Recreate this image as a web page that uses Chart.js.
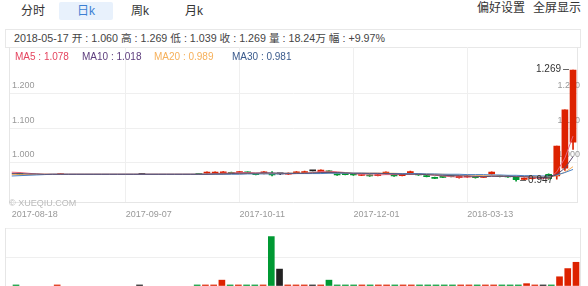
<!DOCTYPE html>
<html>
<head>
<meta charset="utf-8">
<script src="https://cdn.jsdelivr.net/npm/chart.js@4/dist/chart.umd.min.js"></script>
<style>
  body { margin: 0; width: 588px; height: 286px; overflow: hidden; background: #fff; position: relative;
         font-family: "Liberation Sans", Arial, "Noto Sans CJK SC", sans-serif; color: #333; }
  .t { position: absolute; white-space: nowrap; line-height: 1; }
  .tab { font-size: 12px; top: 5px; color: #333; }
  #tabOn { position: absolute; left: 59px; top: 2px; width: 54px; height: 18px; background: #e8f1fc; border-radius: 2px;
           color: #3c7fd3; font-size: 12px; line-height: 18px; text-align: center; }
  #info { position: absolute; left: 5px; top: 29px; width: 566px; height: 17px; border: 1px solid #e8e8e8;
          padding-left: 8px; font-size: 10.7px; line-height: 17px; color: #444; white-space: nowrap; }
  .ma { font-size: 10px; top: 52px; }
  #mainWrap { position: absolute; left: 0; top: 47px; }
  #volWrap { position: absolute; left: 0; top: 227px; }
  #mark { left: 9px; top: 199px; font-size: 9px; color: #bbb; }
</style>
</head>
<body>
<span class="t tab" style="left:21px">分时</span>
<div id="tabOn">日k</div>
<span class="t tab" style="left:131px">周k</span>
<span class="t tab" style="left:185px">月k</span>
<span class="t tab" style="left:477px;top:2px">偏好设置</span>
<span class="t tab" style="left:533px;top:2px">全屏显示</span>
<div id="info">2018-05-17 开 : 1.060 高 : 1.269 低 : 1.039 收 : 1.269 量 : 18.24万 幅 : +9.97%</div>

<div id="mainWrap"><canvas id="priceChart" width="588" height="180"></canvas></div>
<div id="volWrap"><canvas id="volChart" width="588" height="59"></canvas></div>

<span class="t ma" style="left:15px;color:#e5445f">MA5 : 1.078</span>
<span class="t ma" style="left:82px;color:#5d3d7d">MA10 : 1.018</span>
<span class="t ma" style="left:154px;color:#f6b05a">MA20 : 0.989</span>
<span class="t ma" style="left:232px;color:#3a5a8c">MA30 : 0.981</span>
<span class="t" id="mark">© XUEQIU.COM</span>

<script>
// x tick labels (bar index -> date)
const xLabels = ["2017-08-18", "2017-09-07", "2017-10-11", "2017-12-01", "2018-03-13"];
const xTickIdx = [0, 14, 28, 42, 56];
const yTicks = [1.0, 1.1, 1.2];

// daily k, 70 trading days (null = no trade)
const opens = [
  null,
  0.970, null, null, null, null, 0.966, null, null, null, null,
  null, null, null, null, null, 0.967, null, null, null, null,
  null, null, 0.968, 0.970, 0.968, 0.969, 0.972, 0.970, 0.973, 0.968,
  0.969, 0.969, 0.968, 0.967, 0.970, 0.971, 0.977, 0.974, 0.977, 0.968,
  0.968, 0.967, 0.964, 0.965, 0.963, 0.968, 0.966, 0.963, 0.968, 0.967,
  0.963, 0.958, 0.960, 0.962, 0.957, 0.959, 0.960, 0.958, 0.968, 0.963,
  0.962, 0.958, 0.952, 0.954, 0.955, 0.967, 0.962, 0.985, 1.060
];
const closes = [
  null,
  0.966, null, null, null, null, 0.968, null, null, null, null,
  null, null, null, null, null, 0.967, null, null, null, null,
  null, null, 0.967, 0.973, 0.973, 0.974, 0.970, 0.975, 0.971, 0.966,
  0.974, 0.965, 0.968, 0.970, 0.974, 0.975, 0.977, 0.979, 0.973, 0.965,
  0.966, 0.965, 0.967, 0.962, 0.966, 0.973, 0.962, 0.966, 0.975, 0.965,
  0.960, 0.955, 0.958, 0.960, 0.961, 0.962, 0.957, 0.961, 0.973, 0.960,
  0.959, 0.951, 0.956, 0.956, 0.955, 0.954, 1.049, 1.154, 1.269
];
const highs = [
  null,
  0.971, null, null, null, null, 0.969, null, null, null, null,
  null, null, null, null, null, 0.967, null, null, null, null,
  null, null, 0.969, 0.974, 0.974, 0.975, 0.973, 0.975, 0.974, 0.969,
  0.975, 0.975, 0.970, 0.971, 0.975, 0.976, 0.977, 0.980, 0.978, 0.969,
  0.968, 0.968, 0.968, 0.966, 0.967, 0.974, 0.967, 0.967, 0.976, 0.968,
  0.964, 0.959, 0.961, 0.963, 0.962, 0.963, 0.961, 0.962, 0.974, 0.964,
  0.963, 0.959, 0.957, 0.957, 0.956, 0.968, 1.049, 1.154, 1.269
];
const lows = [
  null,
  0.965, null, null, null, null, 0.966, null, null, null, null,
  null, null, null, null, null, 0.967, null, null, null, null,
  null, null, 0.967, 0.969, 0.968, 0.968, 0.969, 0.970, 0.970, 0.965,
  0.968, 0.962, 0.966, 0.966, 0.969, 0.970, 0.977, 0.973, 0.972, 0.964,
  0.965, 0.964, 0.963, 0.961, 0.962, 0.967, 0.961, 0.962, 0.967, 0.964,
  0.959, 0.954, 0.957, 0.959, 0.956, 0.958, 0.956, 0.957, 0.967, 0.959,
  0.958, 0.947, 0.951, 0.953, 0.954, 0.952, 0.953, 0.978, 1.039
];
// volume, 万股
const volumes = [
  0,
  0.8, 0, 0, 0, 0, 0.8, 0, 0, 0, 0,
  0, 0, 0, 0, 0, 0.8, 0, 0, 0, 0,
  0, 0, 0.8, 0.8, 0.8, 4.5, 0.8, 0.8, 0.8, 0.8,
  0.8, 38, 13, 0.8, 0.8, 0.8, 0.8, 0.8, 4.5, 0.8,
  0.8, 0.8, 0.8, 0.8, 0.8, 0.8, 0.8, 0.8, 0.8, 0.8,
  0.8, 0.8, 0.8, 0.8, 0.8, 0.8, 0.8, 0.8, 0.8, 0.8,
  0.8, 0.8, 1.8, 0.8, 0.8, 0.8, 7.1, 13.4, 18.24
];

const ma5 = [
  0.973,
  0.972, 0.970, 0.968, 0.967, 0.967, 0.967, 0.967, 0.967, 0.967, 0.967,
  0.967, 0.967, 0.967, 0.967, 0.967, 0.967, 0.967, 0.967, 0.967, 0.967,
  0.967, 0.967, 0.967, 0.968, 0.969, 0.970, 0.971, 0.972, 0.972, 0.971,
  0.971, 0.970, 0.969, 0.968, 0.969, 0.970, 0.972, 0.975, 0.976, 0.974,
  0.972, 0.969, 0.966, 0.965, 0.965, 0.966, 0.966, 0.966, 0.968, 0.968,
  0.966, 0.964, 0.962, 0.960, 0.959, 0.959, 0.960, 0.960, 0.962, 0.962,
  0.962, 0.961, 0.960, 0.957, 0.955, 0.954, 0.974, 1.014, 1.078
];
const ma10 = [
  0.969,
  0.969, 0.968, 0.968, 0.967, 0.967, 0.967, 0.967, 0.967, 0.967, 0.967,
  0.967, 0.967, 0.967, 0.967, 0.967, 0.967, 0.967, 0.967, 0.967, 0.967,
  0.967, 0.967, 0.967, 0.967, 0.968, 0.968, 0.969, 0.970, 0.970, 0.970,
  0.971, 0.971, 0.970, 0.970, 0.970, 0.970, 0.971, 0.972, 0.972, 0.972,
  0.971, 0.970, 0.970, 0.970, 0.970, 0.969, 0.968, 0.967, 0.967, 0.967,
  0.966, 0.965, 0.964, 0.963, 0.963, 0.962, 0.961, 0.960, 0.961, 0.961,
  0.961, 0.960, 0.960, 0.959, 0.958, 0.957, 0.966, 0.985, 1.018
];
const ma20 = [
  0.966,
  0.966, 0.966, 0.967, 0.967, 0.967, 0.967, 0.967, 0.967, 0.967, 0.967,
  0.967, 0.967, 0.967, 0.967, 0.967, 0.967, 0.967, 0.967, 0.967, 0.967,
  0.967, 0.967, 0.967, 0.967, 0.967, 0.968, 0.968, 0.968, 0.969, 0.969,
  0.969, 0.969, 0.969, 0.970, 0.970, 0.970, 0.970, 0.971, 0.971, 0.971,
  0.971, 0.970, 0.970, 0.970, 0.970, 0.970, 0.970, 0.969, 0.969, 0.968,
  0.968, 0.967, 0.967, 0.966, 0.965, 0.965, 0.964, 0.963, 0.963, 0.962,
  0.962, 0.961, 0.961, 0.960, 0.960, 0.959, 0.963, 0.973, 0.989
];
const ma30 = [
  0.962,
  0.963, 0.964, 0.965, 0.966, 0.967, 0.967, 0.967, 0.967, 0.967, 0.967,
  0.967, 0.967, 0.967, 0.967, 0.967, 0.967, 0.967, 0.967, 0.967, 0.967,
  0.967, 0.967, 0.967, 0.967, 0.967, 0.967, 0.967, 0.967, 0.968, 0.968,
  0.968, 0.968, 0.968, 0.969, 0.969, 0.969, 0.969, 0.969, 0.970, 0.970,
  0.970, 0.970, 0.970, 0.969, 0.969, 0.969, 0.969, 0.969, 0.969, 0.969,
  0.968, 0.968, 0.967, 0.967, 0.967, 0.966, 0.966, 0.966, 0.965, 0.965,
  0.964, 0.964, 0.963, 0.963, 0.962, 0.962, 0.965, 0.972, 0.981
];

const UP = "#dd2200", DOWN = "#009933", FLAT = "#222";
const GRID = "#efefef", EDGE = "#e6e6e6";
const xMin = -0.338, xMax = 69.487;

Chart.defaults.font.family = '"Liberation Sans", Arial, sans-serif';
Chart.defaults.animation = false;

function colorOf(i) {
  if (closes[i] > opens[i]) return UP;
  if (closes[i] < opens[i]) return DOWN;
  return FLAT;
}

// mirrored labels must not shrink the plot area
const noPad = s => { s.paddingTop = 0; s.paddingBottom = 0; s.paddingLeft = 0; s.paddingRight = 0; };

const traded = opens.map((v, i) => i).filter(i => opens[i] != null);
const maLine = (arr, color, order) => ({
  type: "line", data: arr.map((v, i) => ({ x: i, y: v })), borderColor: color,
  borderWidth: 1, pointRadius: 0, order: order
});

// labels for the highest high and the lowest low
const extremeLabels = {
  id: "extremeLabels",
  afterDatasetsDraw(chart) {
    const { ctx, scales: { x, y } } = chart;
    let hi = -1, lo = -1;
    traded.forEach(i => {
      if (hi < 0 || highs[i] > highs[hi]) hi = i;
      if (lo < 0 || lows[i] < lows[lo]) lo = i;
    });
    ctx.save();
    ctx.font = '10px "Liberation Sans", Arial';
    ctx.fillStyle = "#333";
    ctx.strokeStyle = "#666";
    ctx.lineWidth = 1;
    ctx.textBaseline = "middle";

    let px = x.getPixelForValue(hi) - 4;
    let py = Math.round(y.getPixelForValue(highs[hi])) - 0.5;
    ctx.beginPath(); ctx.moveTo(px - 6, py); ctx.lineTo(px, py); ctx.stroke();
    ctx.textAlign = "right";
    ctx.fillText(highs[hi].toFixed(3), px - 8, py);

    px = x.getPixelForValue(lo) + 4;
    py = Math.round(y.getPixelForValue(lows[lo])) - 0.5;
    ctx.beginPath(); ctx.moveTo(px, py); ctx.lineTo(px + 6, py); ctx.stroke();
    ctx.textAlign = "left";
    ctx.fillText(lows[lo].toFixed(3), px + 8, py);
    ctx.restore();
  }
};

const priceY = (pos) => ({
  position: pos, min: 0.886, max: 1.336,
  afterBuildTicks: s => { s.ticks = yTicks.map(v => ({ value: v })); },
  afterFit: noPad,
  ticks: { mirror: true, padding: 3, labelOffset: -8, color: "#999", font: { size: 9 },
           callback: v => v.toFixed(3) },
  grid: { display: pos === "left", color: GRID, drawTicks: false },
  border: { color: EDGE }
});

new Chart(document.getElementById("priceChart"), {
  type: "bar",
  data: {
    datasets: [
      maLine(ma10, "#5d4d70", 0),
      maLine(ma30, "#4a80c4", 1),
      maLine(ma20, "#f6b05a", 2),
      maLine(ma5, "#e5647a", 3),
      {
        data: traded.map(i => ({ x: i, y: [opens[i], closes[i]] })),
        backgroundColor: c => colorOf(c.raw.x),
        barThickness: 6, minBarLength: 1, grouped: false, order: 10
      },
      {
        data: traded.map(i => ({ x: i, y: [lows[i], highs[i]] })),
        backgroundColor: c => colorOf(c.raw.x),
        barThickness: 1, grouped: false, order: 11
      }
    ]
  },
  options: {
    responsive: false,
    // each mirrored y axis still takes its 3px tick padding
    layout: { padding: { left: 3, right: 5, top: 0, bottom: 0 } },
    plugins: { legend: { display: false }, tooltip: { enabled: false } },
    scales: {
      x: {
        type: "linear", min: xMin, max: xMax, offset: false,
        afterBuildTicks: s => { s.ticks = xTickIdx.map(v => ({ value: v })); },
        afterFit: noPad,
        ticks: { align: "start", padding: 7, color: "#999", font: { size: 9 }, maxRotation: 0,
                 autoSkip: false, callback: (v, i) => xLabels[i] },
        grid: { offset: false, color: c => (c.index === 0 ? "rgba(0,0,0,0)" : GRID), drawTicks: false },
        border: { color: EDGE }
      },
      y: priceY("left"),
      y2: priceY("right")
    }
  },
  plugins: [extremeLabels]
});

const volIdx = volumes.map((v, i) => i).filter(i => volumes[i] > 0);
new Chart(document.getElementById("volChart"), {
  type: "bar",
  data: {
    datasets: [{
      data: volIdx.map(i => ({ x: i, y: volumes[i] })),
      backgroundColor: c => colorOf(c.raw.x),
      barThickness: 6
    }]
  },
  options: {
    responsive: false,
    layout: { padding: { left: 5, right: 8, top: 1, bottom: 0 } },
    plugins: { legend: { display: false }, tooltip: { enabled: false } },
    scales: {
      x: { type: "linear", min: xMin, max: xMax, offset: false, grid: { offset: false }, display: false },
      y: {
        min: 0, max: 44.6,
        afterBuildTicks: s => { s.ticks = [0, 22.3, 44.6].map(v => ({ value: v })); },
        afterFit: noPad,
        ticks: { display: false },
        grid: { color: GRID, drawTicks: false },
        border: { color: EDGE }
      },
      yr: {
        position: "right", min: 0, max: 44.6,
        afterFit: noPad,
        ticks: { display: false },
        grid: { display: false, drawTicks: false },
        border: { color: EDGE }
      }
    }
  }
});
</script>
</body>
</html>
